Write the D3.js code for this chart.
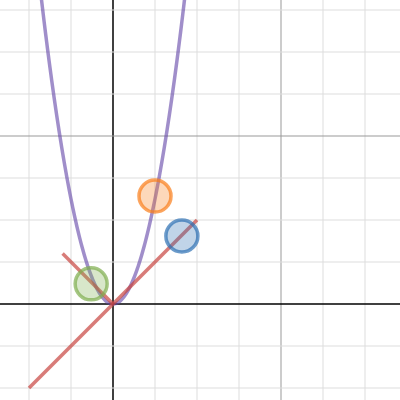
<!DOCTYPE html><html><head><script src="https://cdn.jsdelivr.net/npm/d3@7"></script>
<style>body{margin:0}svg{display:block}</style></head><body><svg width="400" height="400"></svg><script>
const parabolaK = [2.5];
const lineA = [[-2,-2],[2,2]];
const lineB = [[-1.2,1.2],[0,0]];
const points = [
 {x:-0.52,y:0.48,c:"#7fae4e"},
 {x:1.0,y:2.57,c:"#fa7e19"},
 {x:1.64,y:1.62,c:"#2d70b3"}];
const W=400,H=400,u=42,ox=113,oy=304;
const x=d3.scaleLinear().domain([-ox/u,(W-ox)/u]).range([0,W]);
const y=d3.scaleLinear().domain([-(H-oy)/u,oy/u]).range([H,0]);
const s=d3.select("svg");
s.append("rect").attr("width",W).attr("height",H).attr("fill","#fff");
for(let i=-3;i<=7;i++){
 s.append("line").attr("x1",x(i)).attr("x2",x(i)).attr("y1",0).attr("y2",H)
  .attr("stroke",i===0?"#000":(i%4===0?"#999":"#ddd")).attr("stroke-width",i===0?1.5:1);
}
for(let j=-3;j<=8;j++){
 s.append("line").attr("y1",y(j)).attr("y2",y(j)).attr("x1",0).attr("x2",W)
  .attr("stroke",j===0?"#000":(j%4===0?"#999":"#ddd")).attr("stroke-width",j===0?1.5:1);
}
const ln=d3.line().x(d=>x(d[0])).y(d=>y(d[1]));
const k=parabolaK[0];
const pts=d3.range(-1.8,1.8001,0.02).map(t=>[t,k*t*t]);
s.append("path").attr("d",ln(pts)).attr("fill","none").attr("stroke","#6042a6").attr("stroke-opacity",0.6).attr("stroke-width",3.5);
[lineA,lineB].forEach(L=>s.append("path").attr("d",ln(L)).attr("fill","none").attr("stroke","#c74440").attr("stroke-opacity",0.7).attr("stroke-width",3.5));
points.forEach(p=>s.append("circle").attr("cx",x(p.x)).attr("cy",y(p.y)).attr("r",16)
 .attr("fill",p.c).attr("fill-opacity",0.3).attr("stroke",p.c).attr("stroke-opacity",0.7).attr("stroke-width",3.5));
</script></body></html>
